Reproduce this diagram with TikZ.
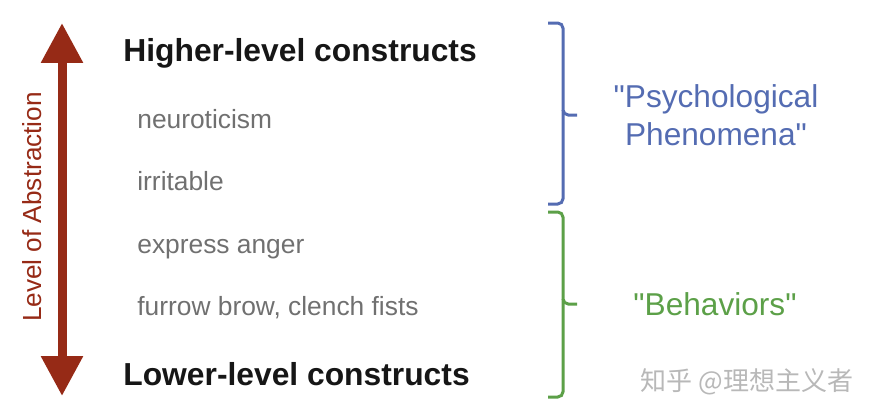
\documentclass[tikz,border=0pt]{standalone}
\usepackage{fontspec}
\setmainfont{Liberation Sans}
\newfontfamily\cjk{Noto Sans CJK SC}
\usepackage{tikz}
\usetikzlibrary{arrows.meta}
\usetikzlibrary{positioning}

\definecolor{abstrred}{RGB}{150,42,22}
\definecolor{phenblue}{RGB}{84,108,178}
\definecolor{behgreen}{RGB}{92,160,72}
\definecolor{itemgray}{RGB}{112,112,112}
\definecolor{headblack}{RGB}{22,22,22}

\tikzset{
  levelhead/.style={anchor=base west, inner sep=0pt, text=headblack, font=\fontsize{18.1}{22}\selectfont\bfseries},
  levelitem/.style={anchor=base west, inner sep=0pt, text=itemgray, font=\fontsize{15}{18}\selectfont},
  grouplabel/.style={anchor=base, inner sep=0pt, align=center, font=\fontsize{18}{21.5}\selectfont},
  bracket/.style={line width=0.06cm, rounded corners=3pt},
}

\begin{document}
\begin{tikzpicture}[x=0.02cm, y=-0.02cm]
 %frame
   \useasboundingbox (0,0) rectangle (874,416);

 %arrow
   \coordinate (top) at (62,23);
   \coordinate (bot) at (62,396);
   \draw[abstrred, line width=0.18cm, {Triangle[width=0.8cm,length=0.8cm]}-{Triangle[width=0.8cm,length=0.8cm]}] (top) -- (bot);
   \node[rotate=90, inner sep=0pt, text=abstrred, font=\fontsize{14.9}{18}\selectfont] (abstr) at (32,207) {Level of Abstraction};

 %constructs
   \node[levelhead] (high) at (123,61) {Higher-level constructs};
   \foreach \y/\txt/\name in { 128/neuroticism/neuro, 190/irritable/irrit, 253/express anger/anger, 315/{furrow brow, clench fists}/furrow} {
         \node[levelitem] (\name) at (137,\y) {\txt};
    }
   \node[levelhead] (low) at (123,385) {Lower-level constructs};

 %brackets
   \draw[bracket, phenblue] (548,23) -| (563,115) -- (577,115);
   \draw[bracket, phenblue] (563,110) |- (548,204);
   \draw[bracket, behgreen] (548,212) -| (563,304) -- (577,304);
   \draw[bracket, behgreen] (563,299) |- (548,397);

 %group labels
   \node[grouplabel, text=phenblue] (psych) at (716,145) {\textquotedbl Psychological\\Phenomena\textquotedbl};
   \node[grouplabel, text=behgreen] (behav) at (715,315) {\textquotedbl Behaviors\textquotedbl};

 %watermark
   \node[inner sep=0pt, text=black!28, font=\cjk\fontsize{14.8}{18}\selectfont] (mark) at (747,382) {知乎 @理想主义者};
\end{tikzpicture}
\end{document}
